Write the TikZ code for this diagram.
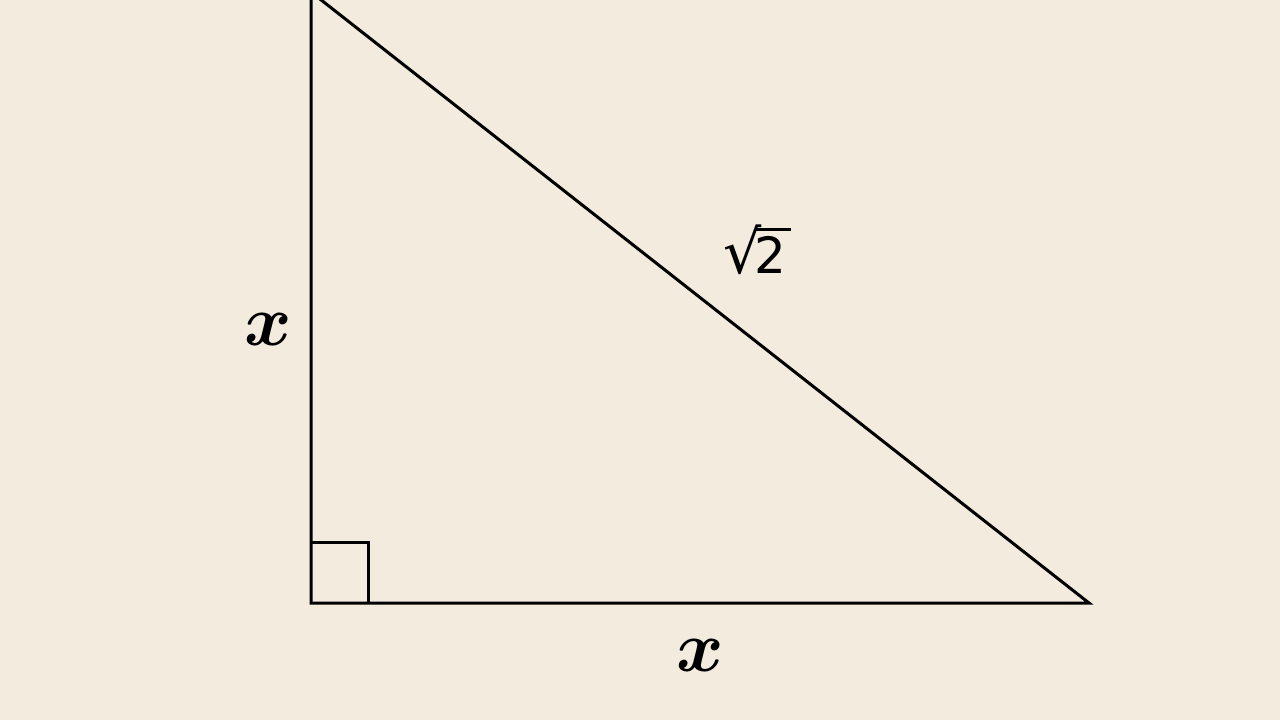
\documentclass[tikz,border=0pt]{standalone}
\usepackage{bm}
\usepackage{graphicx}
\usepackage{fontspec}
\newfontfamily\dv{DejaVu Sans}
\definecolor{bg}{HTML}{F3EBDD}
\tikzset{edge/.style={line width=3pt, black, line join=miter},
lbl/.style={inner sep=0pt, text=black}}
\newcommand{\bigx}{\scalebox{7.2}{$\bm{x}$}}
\begin{document}
\begin{tikzpicture}[x=1pt,y=-1pt]
\fill[bg] (0,0) rectangle (1280,720);
\useasboundingbox (0,0) rectangle (1280,720);
\begin{scope}
\clip (0,0) rectangle (1280,720);
\coordinate (A) at (311,-8);
\coordinate (B) at (311,603);
\coordinate (C) at (1089,603);
\draw[edge] (A) -- (B) -- (C) -- cycle;
\coordinate (S1) at (311.5,542);
\coordinate (S2) at (368.5,542);
\coordinate (S3) at (368.5,603);
\draw[edge] (S1) -- (S2) -- (S3);
\end{scope}
\node[lbl] (lx) at (268,329) {\bigx};
\node[lbl] (bx) at (700,655) {\bigx};
\node[lbl] (h) at (757,250) {\dv{\fontsize{60}{60}\selectfont √}\kern-7pt\vbox{\hrule height 2.6pt\kern 6pt\hbox{\fontsize{50}{50}\selectfont 2\kern4pt}}};
\end{tikzpicture}
\end{document}
